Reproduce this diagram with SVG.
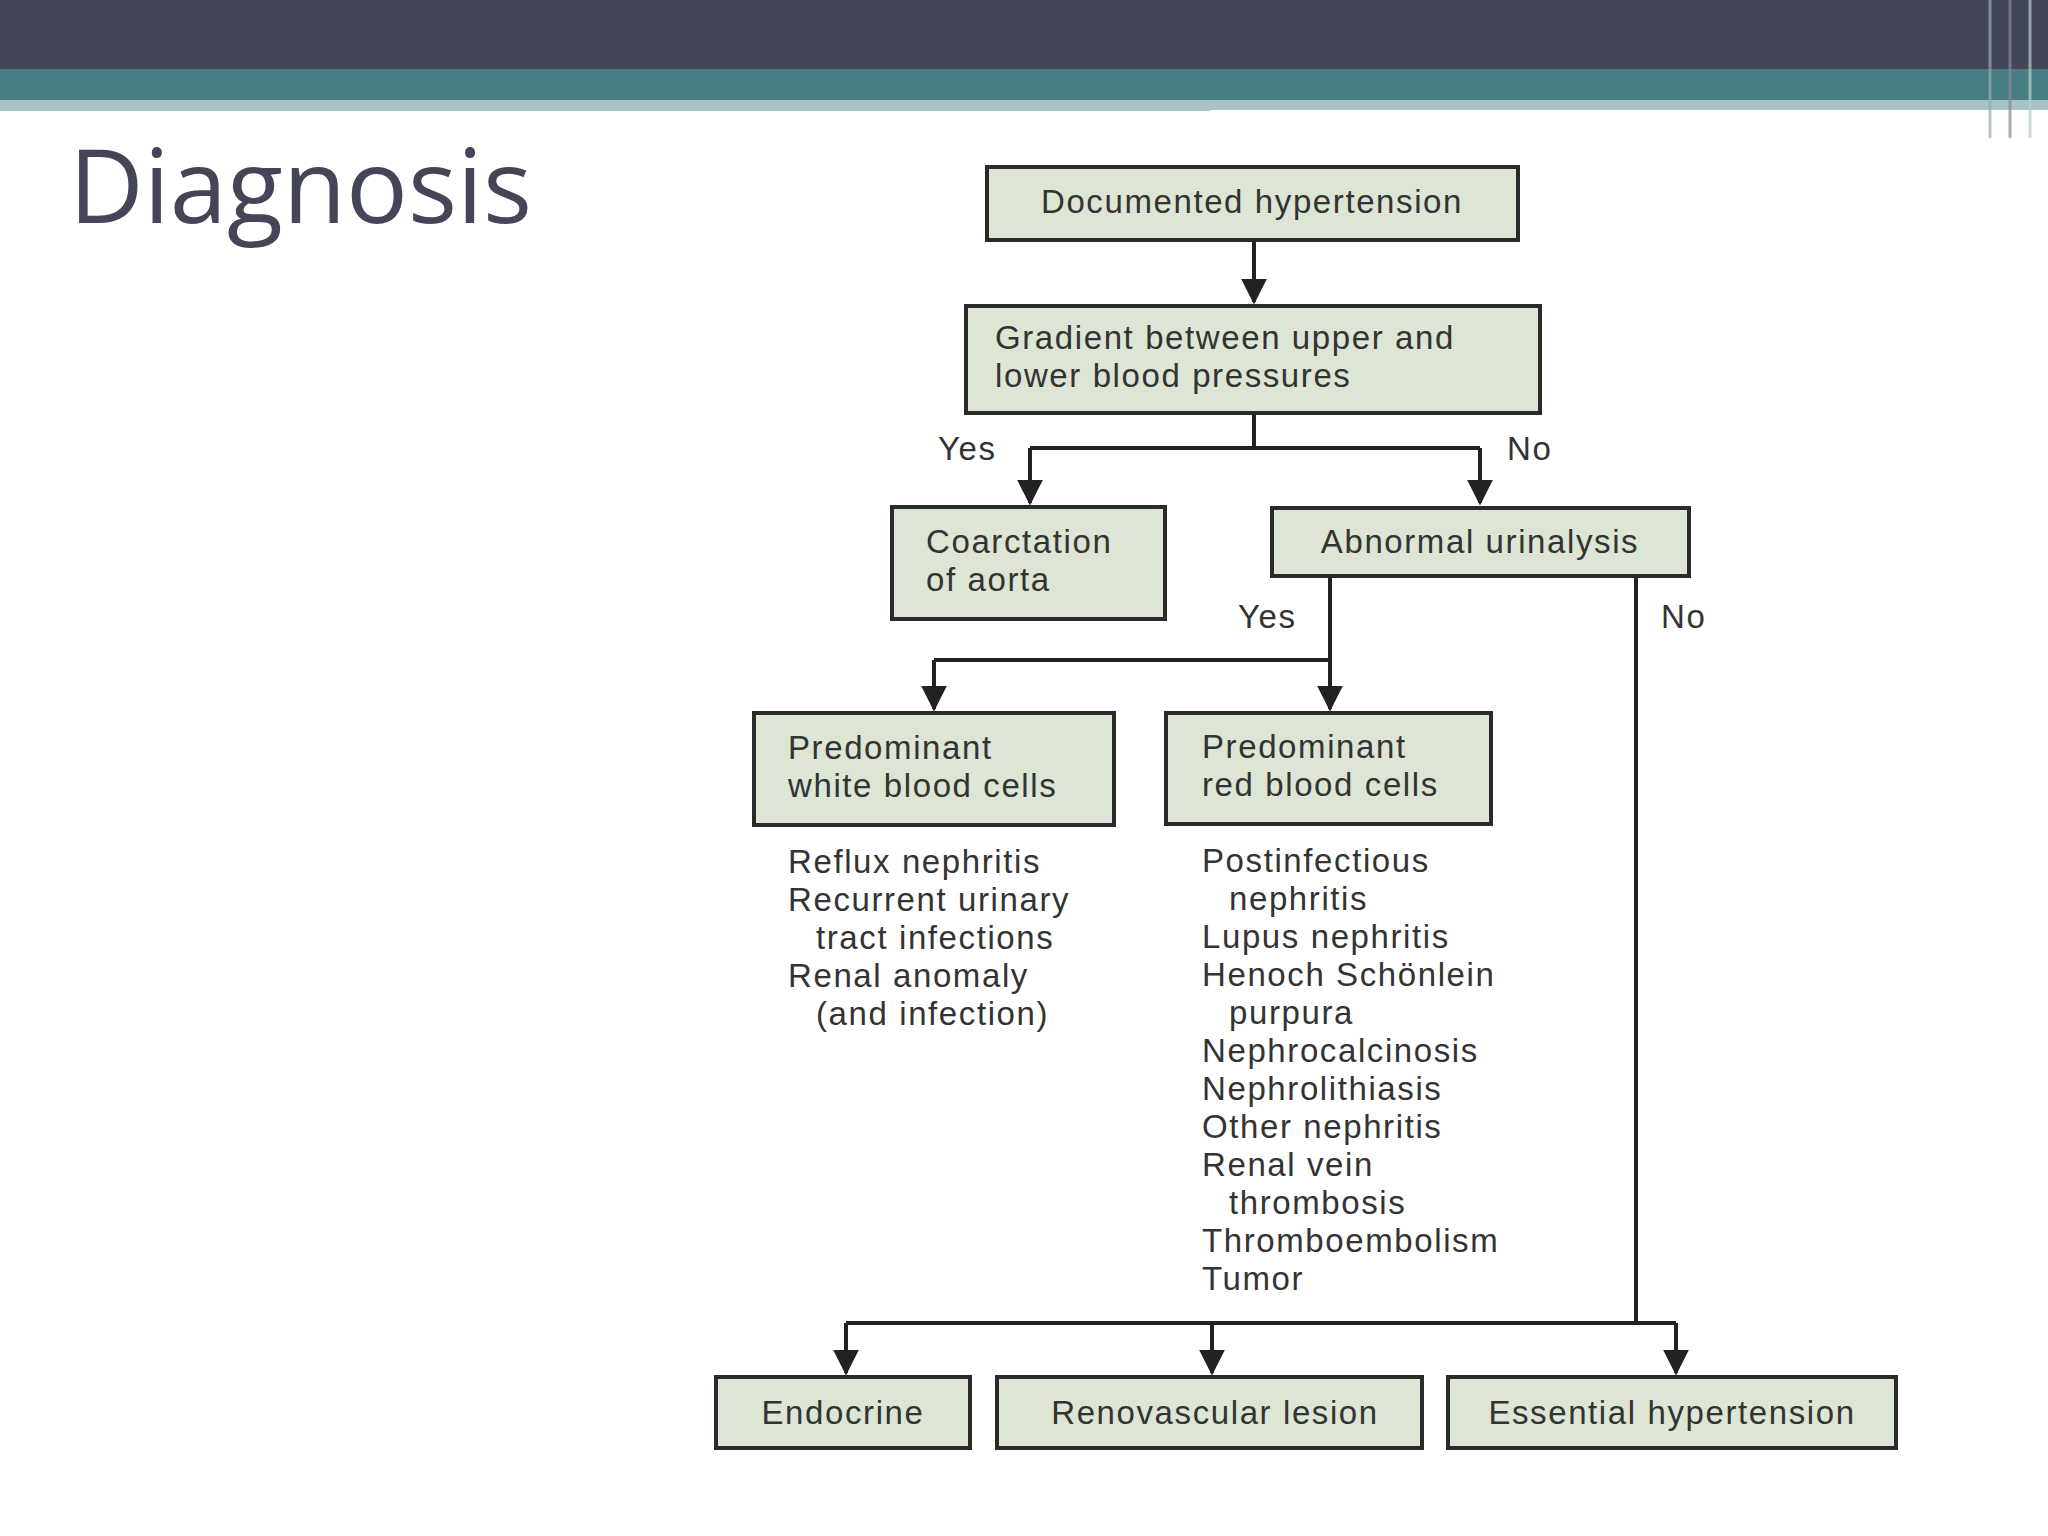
<svg xmlns="http://www.w3.org/2000/svg" width="2048" height="1536" viewBox="0 0 2048 1536">
<defs>
<style>
.b{fill:#dde6d4;stroke:#2a2a2a;stroke-width:4}
.t{font-family:"Liberation Sans",Arial,sans-serif;font-size:33px;fill:#333;letter-spacing:1.6px}
.c{fill:none;stroke:#222;stroke-width:4}
</style>
<marker id="a" viewBox="0 0 10 10" refX="9" refY="5" markerWidth="6.5" markerHeight="6.5" orient="auto"><path d="M0,0L10,5L0,10z" fill="#222"/></marker>
</defs>
<rect width="2048" height="1536" fill="#fff"/>
<rect width="2048" height="69" fill="#424656"/>
<rect y="69" width="2048" height="31" fill="#477d83"/>
<rect y="100" width="1210" height="11" fill="#a8c3c4"/>
<rect x="1210" y="100" width="838" height="10" fill="#a8c3c4"/>
<g opacity="0.7" stroke-width="3"><line x1="1990" y1="0" x2="1990" y2="138" stroke="#9aa"/><line x1="2010" y1="0" x2="2010" y2="138" stroke="#889"/><line x1="2030" y1="0" x2="2030" y2="138" stroke="#bcc"/></g>
<text x="69" y="223" font-family="'Open Sans',sans-serif" font-size="103" fill="#444556">Diagnosis</text>
<g id="connectors" class="c">
<line x1="1254" y1="240" x2="1254" y2="302" marker-end="url(#a)"/>
<path d="M1254,413V448"/>
<path d="M1030,448H1480"/>
<line x1="1030" y1="448" x2="1030" y2="503" marker-end="url(#a)"/>
<line x1="1480" y1="448" x2="1480" y2="503" marker-end="url(#a)"/>
<path d="M1330,576V660H934"/>
<line x1="934" y1="660" x2="934" y2="709" marker-end="url(#a)"/>
<line x1="1330" y1="660" x2="1330" y2="709" marker-end="url(#a)"/>
<path d="M1636,576V1323"/>
<path d="M846,1323H1676"/>
<line x1="846" y1="1323" x2="846" y2="1373" marker-end="url(#a)"/>
<line x1="1212" y1="1323" x2="1212" y2="1373" marker-end="url(#a)"/>
<line x1="1676" y1="1323" x2="1676" y2="1373" marker-end="url(#a)"/>
</g>
<g class="t">
<text x="938" y="460">Yes</text><text x="1507" y="460">No</text>
<text x="1238" y="628">Yes</text><text x="1661" y="628">No</text>
</g>
<g id="n1"><rect class="b" x="987" y="167" width="531" height="73"/><text class="t" x="1252" y="213" text-anchor="middle">Documented hypertension</text></g>
<g id="n2"><rect class="b" x="966" y="306" width="574" height="107"/><text class="t" x="995" y="349">Gradient between upper and</text><text class="t" x="995" y="387">lower blood pressures</text></g>
<g id="n3"><rect class="b" x="892" y="507" width="273" height="112"/><text class="t" x="926" y="553">Coarctation</text><text class="t" x="926" y="591">of aorta</text></g>
<g id="n4"><rect class="b" x="1272" y="508" width="417" height="68"/><text class="t" x="1480" y="553" text-anchor="middle">Abnormal urinalysis</text></g>
<g id="n5"><rect class="b" x="754" y="713" width="360" height="112"/><text class="t" x="788" y="759">Predominant</text><text class="t" x="788" y="797">white blood cells</text></g>
<g id="n6"><rect class="b" x="1166" y="713" width="325" height="111"/><text class="t" x="1202" y="758">Predominant</text><text class="t" x="1202" y="796">red blood cells</text></g>
<g id="l1" class="t"><text x="788" y="873">Reflux nephritis</text><text x="788" y="911">Recurrent urinary</text><text x="816" y="949">tract infections</text><text x="788" y="987">Renal anomaly</text><text x="816" y="1025">(and infection)</text></g>
<g id="l2" class="t"><text x="1202" y="872">Postinfectious</text><text x="1229" y="910">nephritis</text><text x="1202" y="948">Lupus nephritis</text><text x="1202" y="986">Henoch Schönlein</text><text x="1229" y="1024">purpura</text><text x="1202" y="1062">Nephrocalcinosis</text><text x="1202" y="1100">Nephrolithiasis</text><text x="1202" y="1138">Other nephritis</text><text x="1202" y="1176">Renal vein</text><text x="1229" y="1214">thrombosis</text><text x="1202" y="1252">Thromboembolism</text><text x="1202" y="1290">Tumor</text></g>
<g id="n7"><rect class="b" x="716" y="1377" width="254" height="71"/><text class="t" x="843" y="1424" text-anchor="middle">Endocrine</text></g>
<g id="n8"><rect class="b" x="997" y="1377" width="425" height="71"/><text class="t" x="1215" y="1424" text-anchor="middle">Renovascular lesion</text></g>
<g id="n9"><rect class="b" x="1448" y="1377" width="448" height="71"/><text class="t" x="1672" y="1424" text-anchor="middle">Essential hypertension</text></g>
</svg>
